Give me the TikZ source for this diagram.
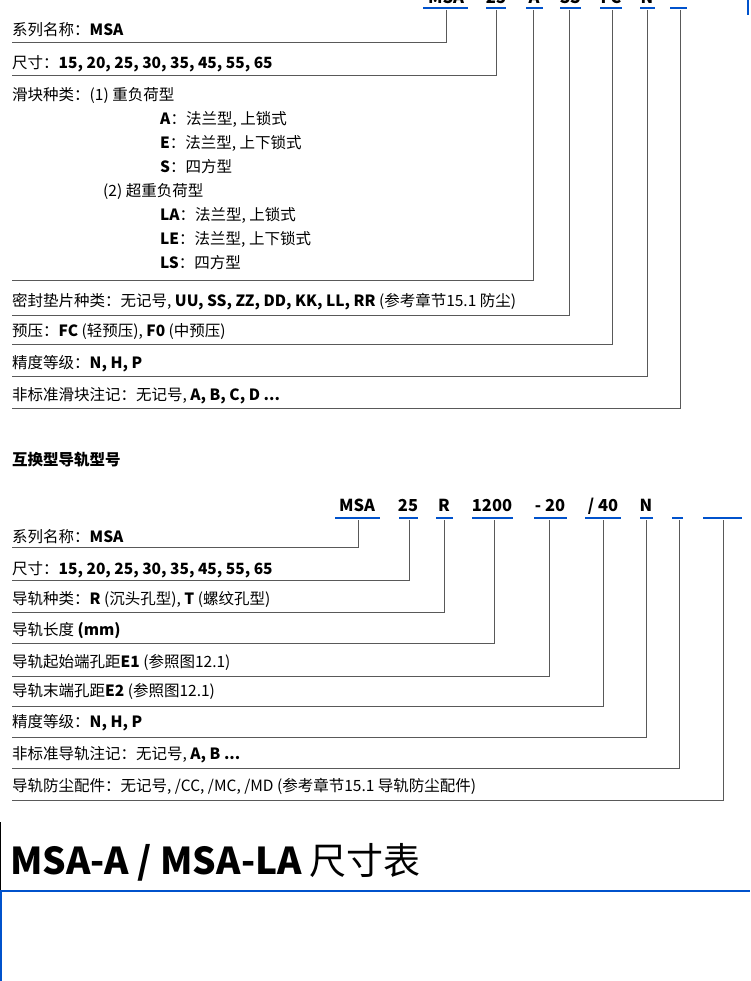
\documentclass[tikz,border=0pt]{standalone}
\usepackage{fontspec}
\setmainfont{Noto Sans CJK SC}
\newfontfamily\cjkmed{Noto Sans CJK SC Medium}
\begin{document}
\begin{tikzpicture}[x=1pt,y=-1pt,
  lab/.style={anchor=base west,inner sep=0pt,font=\fontsize{15.5}{17}\selectfont},
  code/.style={anchor=base,inner sep=0pt,font=\fontsize{16.5}{18}\selectfont\bfseries},
  ul/.style={draw=blue!60!cyan!80!black,line width=1.5pt},
  con/.style={draw=black!65,line width=0.9pt}]
\useasboundingbox (0,0) rectangle (750,981);
% top codes
\node[code] (tM) at (446,4) {MSA};
\node[code] (t2) at (496,4) {25};
\node[code] (tA) at (534,4) {A};
\node[code] (tS) at (570,4) {SS};
\node[code] (tF) at (611,4) {FC};
\node[code] (tN) at (647,4) {N};
\foreach \a/\b in {423/468,486/506,526/543,560/581,600/622,640/655,670/687}
  \draw[ul] (\a,8) -- (\b,8);
\draw[ul] (748,0) -- (748,15);
% top labels
\node[lab] (l1) at (12,36) {系列名称：\textbf{MSA}};
\node[lab] (l2) at (12,69) {尺寸：\textbf{15, 20, 25, 30, 35, 45, 55, 65}};
\node[lab] (l3) at (12,101) {滑块种类：(1) 重负荷型};
\node[lab] at (160,125) {\textbf{A}：法兰型, 上锁式};
\node[lab] at (160,149) {\textbf{E}：法兰型, 上下锁式};
\node[lab] at (160,173) {\textbf{S}：四方型};
\node[lab] at (103,197) {(2) 超重负荷型};
\node[lab] at (160,221) {\textbf{LA}：法兰型, 上锁式};
\node[lab] at (160,245) {\textbf{LE}：法兰型, 上下锁式};
\node[lab] at (160,269) {\textbf{LS}：四方型};
\node[lab] (l4) at (12,306) {密封垫片种类：无记号, \textbf{UU, SS, ZZ, DD, KK, LL, RR} (参考章节15.1 防尘)};
\node[lab] (l5) at (12,336) {预压：\textbf{FC} (轻预压), \textbf{F0} (中预压)};
\node[lab] (l6) at (12,368) {精度等级：\textbf{N, H, P}};
\node[lab] (l7) at (12,400) {非标准滑块注记：无记号, \textbf{A, B, C, D ...}};
\foreach \x/\y in {446/42,496/75,533/280,569/315,612/344,647/376,680/408}
  \draw[con] (\x,10) -- (\x,\y) -- (12,\y);
% section title
\node[lab,font=\fontsize{15.5}{17}\selectfont\bfseries] (s2) at (12,465) {互换型导轨型号};
% second codes
\node[code] (bM) at (357,511) {MSA};
\node[code] (b2) at (408,511) {25};
\node[code] (bR) at (444,511) {R};
\node[code] (b12) at (492,511) {1200};
\node[code] (b20) at (550,511) {- 20};
\node[code] (b40) at (603,511) {/ 40};
\node[code] (bN) at (646,511) {N};
\foreach \a/\b in {335/380,399/418,436/453,472/513,534/567,585/621,640/653,672/683,703/742}
  \draw[ul] (\a,518) -- (\b,518);
\node[lab] at (12,542) {系列名称：\textbf{MSA}};
\node[lab] at (12,574) {尺寸：\textbf{15, 20, 25, 30, 35, 45, 55, 65}};
\node[lab] at (12,604) {导轨种类：\textbf{R} (沉头孔型), \textbf{T} (螺纹孔型)};
\node[lab] at (12,635) {导轨长度 \textbf{(mm)}};
\node[lab] at (12,667) {导轨起始端孔距\textbf{E1} (参照图12.1)};
\node[lab] at (12,696) {导轨末端孔距\textbf{E2} (参照图12.1)};
\node[lab] at (12,727) {精度等级：\textbf{N, H, P}};
\node[lab] at (12,759) {非标准导轨注记：无记号, \textbf{A, B ...}};
\node[lab] at (12,791) {导轨防尘配件：无记号, /CC, /MC, /MD (参考章节15.1 导轨防尘配件)};
\foreach \x/\y in {358/547,409/580,444/612,494/643,549/676,603/706,646/737,679/768,723/800}
  \draw[con] (\x,520) -- (\x,\y) -- (12,\y);
% heading
\node[anchor=base west,inner sep=0pt,font=\fontsize{37}{40}\selectfont] (h) at (10,874) {\textbf{MSA-A / MSA-LA} 尺寸表};
\draw[black,line width=0.8pt] (0.5,822) -- (0.5,890);
\draw[blue!60!cyan!80!black,line width=1.5pt] (0,891) -- (750,891);
\draw[blue!60!cyan!80!black,line width=1.2pt] (1,891) -- (1,981);
\end{tikzpicture}
\end{document}
